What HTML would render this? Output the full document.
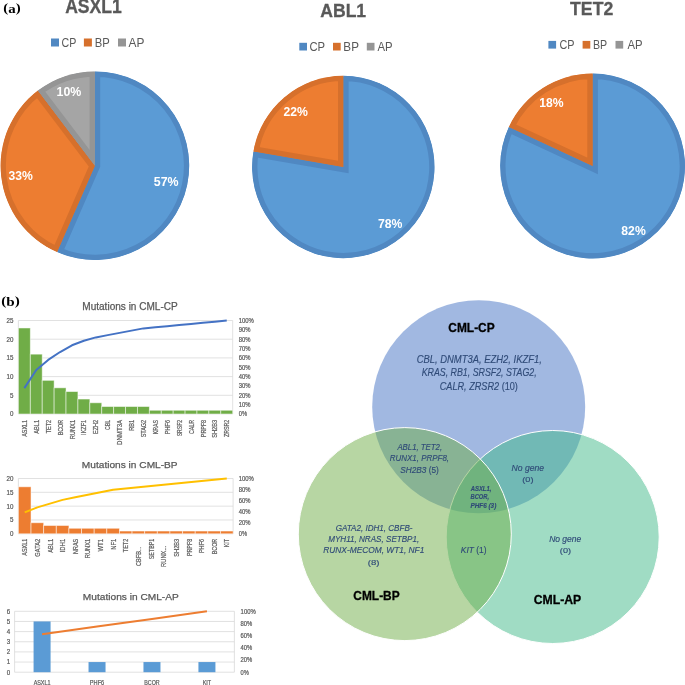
<!DOCTYPE html>
<html><head><meta charset="utf-8"><title>Figure</title>
<style>html,body{margin:0;padding:0;background:#fff;}svg{display:block;}</style>
</head><body>
<svg width="685" height="685" viewBox="0 0 685 685">
<rect width="685" height="685" fill="#fff"/>
<circle cx="94.9" cy="165.7" r="93.7" fill="#5088C2"/>
<clipPath id="c1"><path d="M94.9,165.7L94.9,71.4A94.3,94.3 0 1 1 57.15,252.11Z"/></clipPath>
<path d="M94.9,165.7L94.9,71.4A94.3,94.3 0 1 1 57.15,252.11Z" fill="#5B9BD5" stroke="#5088C2" stroke-width="10.6" clip-path="url(#c1)" stroke-linejoin="miter"/>
<clipPath id="c2"><path d="M94.9,165.7L57.15,252.11A94.3,94.3 0 0 1 37.89,90.59Z"/></clipPath>
<path d="M94.9,165.7L57.15,252.11A94.3,94.3 0 0 1 37.89,90.59Z" fill="#ED7D31" stroke="#D6702C" stroke-width="10.6" clip-path="url(#c2)" stroke-linejoin="miter"/>
<clipPath id="c3"><path d="M94.9,165.7L37.89,90.59A94.3,94.3 0 0 1 94.9,71.4Z"/></clipPath>
<path d="M94.9,165.7L37.89,90.59A94.3,94.3 0 0 1 94.9,71.4Z" fill="#A5A5A5" stroke="#959595" stroke-width="10.6" clip-path="url(#c3)" stroke-linejoin="miter"/>
<circle cx="343.3" cy="167" r="90.6" fill="#5088C2"/>
<clipPath id="c4"><path d="M343.3,167L343.3,75.8A91.2,91.2 0 1 1 253.43,151.48Z"/></clipPath>
<path d="M343.3,167L343.3,75.8A91.2,91.2 0 1 1 253.43,151.48Z" fill="#5B9BD5" stroke="#5088C2" stroke-width="10.6" clip-path="url(#c4)" stroke-linejoin="miter"/>
<clipPath id="c5"><path d="M343.3,167L253.43,151.48A91.2,91.2 0 0 1 343.3,75.8Z"/></clipPath>
<path d="M343.3,167L253.43,151.48A91.2,91.2 0 0 1 343.3,75.8Z" fill="#ED7D31" stroke="#D6702C" stroke-width="10.6" clip-path="url(#c5)" stroke-linejoin="miter"/>
<circle cx="592.6" cy="166" r="91.8" fill="#5088C2"/>
<clipPath id="c6"><path d="M592.6,166L592.6,73.6A92.4,92.4 0 1 1 508.86,126.95Z"/></clipPath>
<path d="M592.6,166L592.6,73.6A92.4,92.4 0 1 1 508.86,126.95Z" fill="#5B9BD5" stroke="#5088C2" stroke-width="10.6" clip-path="url(#c6)" stroke-linejoin="miter"/>
<clipPath id="c7"><path d="M592.6,166L508.86,126.95A92.4,92.4 0 0 1 592.6,73.6Z"/></clipPath>
<path d="M592.6,166L508.86,126.95A92.4,92.4 0 0 1 592.6,73.6Z" fill="#ED7D31" stroke="#D6702C" stroke-width="10.6" clip-path="url(#c7)" stroke-linejoin="miter"/>
<text x="3.33" y="12.7" font-family="'Liberation Serif', serif" font-size="12.52" fill="#000" font-weight="bold" textLength="17.38" lengthAdjust="spacingAndGlyphs"><tspan dy="-0.9">(</tspan><tspan dy="0.9">a</tspan><tspan dy="-0.9">)</tspan></text>
<text x="65.16" y="13.1" font-family="'Liberation Sans', sans-serif" font-size="19.71" fill="#595959" font-weight="bold" textLength="56.64" lengthAdjust="spacingAndGlyphs" stroke="#595959" stroke-width="0.3">ASXL1</text>
<text x="320.26" y="16.9" font-family="'Liberation Sans', sans-serif" font-size="18.26" fill="#595959" font-weight="bold" textLength="45.9" lengthAdjust="spacingAndGlyphs" stroke="#595959" stroke-width="0.3">ABL1</text>
<text x="570.02" y="15.3" font-family="'Liberation Sans', sans-serif" font-size="19.28" fill="#595959" font-weight="bold" textLength="43.28" lengthAdjust="spacingAndGlyphs" stroke="#595959" stroke-width="0.3">TET2</text>
<rect x="51" y="38.5" width="8" height="8" fill="#5088C2"/>
<rect x="83.9" y="38.5" width="8" height="8" fill="#D6702C"/>
<rect x="118" y="38.5" width="8" height="8" fill="#959595"/>
<text x="61.57" y="46.8" font-family="'Liberation Sans', sans-serif" font-size="12.9" fill="#595959" textLength="14.81" lengthAdjust="spacingAndGlyphs">CP</text>
<text x="94.8" y="46.8" font-family="'Liberation Sans', sans-serif" font-size="12.9" fill="#595959" textLength="15.01" lengthAdjust="spacingAndGlyphs">BP</text>
<text x="128.5" y="46.8" font-family="'Liberation Sans', sans-serif" font-size="12.9" fill="#595959" textLength="15.84" lengthAdjust="spacingAndGlyphs">AP</text>
<rect x="299.3" y="42.8" width="7.7" height="7.7" fill="#5088C2"/>
<rect x="333" y="42.8" width="7.7" height="7.7" fill="#D6702C"/>
<rect x="366.8" y="42.8" width="7.7" height="7.7" fill="#959595"/>
<text x="309.44" y="50.6" font-family="'Liberation Sans', sans-serif" font-size="12.46" fill="#595959" textLength="15.68" lengthAdjust="spacingAndGlyphs">CP</text>
<text x="343.37" y="50.6" font-family="'Liberation Sans', sans-serif" font-size="12.46" fill="#595959" textLength="15.56" lengthAdjust="spacingAndGlyphs">BP</text>
<text x="377.5" y="50.6" font-family="'Liberation Sans', sans-serif" font-size="12.46" fill="#595959" textLength="15.11" lengthAdjust="spacingAndGlyphs">AP</text>
<rect x="548.4" y="40.9" width="7.7" height="7.7" fill="#5088C2"/>
<rect x="582.6" y="40.9" width="7.7" height="7.7" fill="#D6702C"/>
<rect x="615.5" y="40.9" width="7.7" height="7.7" fill="#959595"/>
<text x="559.56" y="48.5" font-family="'Liberation Sans', sans-serif" font-size="12.32" fill="#595959" textLength="15.03" lengthAdjust="spacingAndGlyphs">CP</text>
<text x="592.95" y="48.5" font-family="'Liberation Sans', sans-serif" font-size="12.32" fill="#595959" textLength="14.23" lengthAdjust="spacingAndGlyphs">BP</text>
<text x="627.5" y="48.5" font-family="'Liberation Sans', sans-serif" font-size="12.32" fill="#595959" textLength="15.11" lengthAdjust="spacingAndGlyphs">AP</text>
<text x="153.83" y="185.7" font-family="'Liberation Sans', sans-serif" font-size="12.75" fill="#FFFFFF" font-weight="bold" textLength="24.8" lengthAdjust="spacingAndGlyphs">57%</text>
<text x="8.5" y="179.7" font-family="'Liberation Sans', sans-serif" font-size="12.75" fill="#FFFFFF" font-weight="bold" textLength="24.33" lengthAdjust="spacingAndGlyphs">33%</text>
<text x="56.56" y="95.5" font-family="'Liberation Sans', sans-serif" font-size="12.46" fill="#FFFFFF" font-weight="bold" textLength="24.77" lengthAdjust="spacingAndGlyphs">10%</text>
<text x="283.47" y="115.7" font-family="'Liberation Sans', sans-serif" font-size="12.75" fill="#FFFFFF" font-weight="bold" textLength="24.45" lengthAdjust="spacingAndGlyphs">22%</text>
<text x="377.91" y="227.7" font-family="'Liberation Sans', sans-serif" font-size="12.46" fill="#FFFFFF" font-weight="bold" textLength="24.51" lengthAdjust="spacingAndGlyphs">78%</text>
<text x="539.17" y="106.8" font-family="'Liberation Sans', sans-serif" font-size="12.46" fill="#FFFFFF" font-weight="bold" textLength="24.35" lengthAdjust="spacingAndGlyphs">18%</text>
<text x="621.33" y="234.7" font-family="'Liberation Sans', sans-serif" font-size="12.75" fill="#FFFFFF" font-weight="bold" textLength="24.39" lengthAdjust="spacingAndGlyphs">82%</text>
<text x="1.22" y="305.9" font-family="'Liberation Serif', serif" font-size="12.52" fill="#000" font-weight="bold" textLength="18.52" lengthAdjust="spacingAndGlyphs"><tspan dy="-0.9">(</tspan><tspan dy="0.9">b</tspan><tspan dy="-0.9">)</tspan></text>
<line x1="18.4" y1="320.5" x2="232.7" y2="320.5" stroke="#D9D9D9" stroke-width="0.8"/>
<line x1="18.4" y1="339.2" x2="232.7" y2="339.2" stroke="#D9D9D9" stroke-width="0.8"/>
<line x1="18.4" y1="357.9" x2="232.7" y2="357.9" stroke="#D9D9D9" stroke-width="0.8"/>
<line x1="18.4" y1="376.6" x2="232.7" y2="376.6" stroke="#D9D9D9" stroke-width="0.8"/>
<line x1="18.4" y1="395.3" x2="232.7" y2="395.3" stroke="#D9D9D9" stroke-width="0.8"/>
<line x1="18.4" y1="414" x2="232.7" y2="414" stroke="#D9D9D9" stroke-width="0.8"/>
<line x1="18.4" y1="320.5" x2="18.4" y2="414" stroke="#D9D9D9" stroke-width="0.8"/>
<line x1="232.7" y1="320.5" x2="232.7" y2="414" stroke="#D9D9D9" stroke-width="0.8"/>
<rect x="18.4" y="327.98" width="11.91" height="86.02" fill="#70AD47" stroke="#fff" stroke-opacity="0.55" stroke-width="0.9"/>
<rect x="30.31" y="354.16" width="11.91" height="59.84" fill="#70AD47" stroke="#fff" stroke-opacity="0.55" stroke-width="0.9"/>
<rect x="42.21" y="380.34" width="11.91" height="33.66" fill="#70AD47" stroke="#fff" stroke-opacity="0.55" stroke-width="0.9"/>
<rect x="54.12" y="387.82" width="11.91" height="26.18" fill="#70AD47" stroke="#fff" stroke-opacity="0.55" stroke-width="0.9"/>
<rect x="66.02" y="391.56" width="11.91" height="22.44" fill="#70AD47" stroke="#fff" stroke-opacity="0.55" stroke-width="0.9"/>
<rect x="77.93" y="399.04" width="11.91" height="14.96" fill="#70AD47" stroke="#fff" stroke-opacity="0.55" stroke-width="0.9"/>
<rect x="89.83" y="402.78" width="11.91" height="11.22" fill="#70AD47" stroke="#fff" stroke-opacity="0.55" stroke-width="0.9"/>
<rect x="101.74" y="406.52" width="11.91" height="7.48" fill="#70AD47" stroke="#fff" stroke-opacity="0.55" stroke-width="0.9"/>
<rect x="113.64" y="406.52" width="11.91" height="7.48" fill="#70AD47" stroke="#fff" stroke-opacity="0.55" stroke-width="0.9"/>
<rect x="125.55" y="406.52" width="11.91" height="7.48" fill="#70AD47" stroke="#fff" stroke-opacity="0.55" stroke-width="0.9"/>
<rect x="137.46" y="406.52" width="11.91" height="7.48" fill="#70AD47" stroke="#fff" stroke-opacity="0.55" stroke-width="0.9"/>
<rect x="149.36" y="410.26" width="11.91" height="3.74" fill="#70AD47" stroke="#fff" stroke-opacity="0.55" stroke-width="0.9"/>
<rect x="161.27" y="410.26" width="11.91" height="3.74" fill="#70AD47" stroke="#fff" stroke-opacity="0.55" stroke-width="0.9"/>
<rect x="173.17" y="410.26" width="11.91" height="3.74" fill="#70AD47" stroke="#fff" stroke-opacity="0.55" stroke-width="0.9"/>
<rect x="185.08" y="410.26" width="11.91" height="3.74" fill="#70AD47" stroke="#fff" stroke-opacity="0.55" stroke-width="0.9"/>
<rect x="196.98" y="410.26" width="11.91" height="3.74" fill="#70AD47" stroke="#fff" stroke-opacity="0.55" stroke-width="0.9"/>
<rect x="208.89" y="410.26" width="11.91" height="3.74" fill="#70AD47" stroke="#fff" stroke-opacity="0.55" stroke-width="0.9"/>
<rect x="220.79" y="410.26" width="11.91" height="3.74" fill="#70AD47" stroke="#fff" stroke-opacity="0.55" stroke-width="0.9"/>
<polyline points="24.35,388.09 36.26,370.07 48.16,359.93 60.07,352.04 71.97,345.28 83.88,340.78 95.79,337.4 107.69,335.14 119.6,332.89 131.5,330.64 143.41,328.39 155.31,327.26 167.22,326.13 179.12,325.01 191.03,323.88 202.94,322.75 214.84,321.63 226.75,320.5" fill="none" stroke="#4472C4" stroke-width="2" stroke-linejoin="round" stroke-linecap="butt"/>
<text x="82.3" y="309.9" font-family="'Liberation Sans', sans-serif" font-size="10.14" fill="#595959" textLength="95.44" lengthAdjust="spacingAndGlyphs" stroke="#595959" stroke-width="0.25">Mutations in CML-CP</text>
<text x="13.4" y="322.9" font-family="'Liberation Sans', sans-serif" font-size="6.36" fill="#595959" textLength="6.89" lengthAdjust="spacingAndGlyphs" text-anchor="end" stroke="#595959" stroke-width="0.2">25</text>
<text x="13.4" y="341.6" font-family="'Liberation Sans', sans-serif" font-size="6.36" fill="#595959" textLength="6.89" lengthAdjust="spacingAndGlyphs" text-anchor="end" stroke="#595959" stroke-width="0.2">20</text>
<text x="13.4" y="360.3" font-family="'Liberation Sans', sans-serif" font-size="6.36" fill="#595959" textLength="6.89" lengthAdjust="spacingAndGlyphs" text-anchor="end" stroke="#595959" stroke-width="0.2">15</text>
<text x="13.4" y="379" font-family="'Liberation Sans', sans-serif" font-size="6.36" fill="#595959" textLength="6.89" lengthAdjust="spacingAndGlyphs" text-anchor="end" stroke="#595959" stroke-width="0.2">10</text>
<text x="13.4" y="397.7" font-family="'Liberation Sans', sans-serif" font-size="6.36" fill="#595959" textLength="3.45" lengthAdjust="spacingAndGlyphs" text-anchor="end" stroke="#595959" stroke-width="0.2">5</text>
<text x="13.4" y="416.4" font-family="'Liberation Sans', sans-serif" font-size="6.36" fill="#595959" textLength="3.45" lengthAdjust="spacingAndGlyphs" text-anchor="end" stroke="#595959" stroke-width="0.2">0</text>
<text x="238.7" y="322.9" font-family="'Liberation Sans', sans-serif" font-size="6.36" fill="#595959" textLength="15.2" lengthAdjust="spacingAndGlyphs" stroke="#595959" stroke-width="0.2">100%</text>
<text x="238.7" y="332.25" font-family="'Liberation Sans', sans-serif" font-size="6.36" fill="#595959" textLength="11.75" lengthAdjust="spacingAndGlyphs" stroke="#595959" stroke-width="0.2">90%</text>
<text x="238.7" y="341.6" font-family="'Liberation Sans', sans-serif" font-size="6.36" fill="#595959" textLength="11.75" lengthAdjust="spacingAndGlyphs" stroke="#595959" stroke-width="0.2">80%</text>
<text x="238.7" y="350.95" font-family="'Liberation Sans', sans-serif" font-size="6.36" fill="#595959" textLength="11.75" lengthAdjust="spacingAndGlyphs" stroke="#595959" stroke-width="0.2">70%</text>
<text x="238.7" y="360.3" font-family="'Liberation Sans', sans-serif" font-size="6.36" fill="#595959" textLength="11.75" lengthAdjust="spacingAndGlyphs" stroke="#595959" stroke-width="0.2">60%</text>
<text x="238.7" y="369.65" font-family="'Liberation Sans', sans-serif" font-size="6.36" fill="#595959" textLength="11.75" lengthAdjust="spacingAndGlyphs" stroke="#595959" stroke-width="0.2">50%</text>
<text x="238.7" y="379" font-family="'Liberation Sans', sans-serif" font-size="6.36" fill="#595959" textLength="11.75" lengthAdjust="spacingAndGlyphs" stroke="#595959" stroke-width="0.2">40%</text>
<text x="238.7" y="388.35" font-family="'Liberation Sans', sans-serif" font-size="6.36" fill="#595959" textLength="11.75" lengthAdjust="spacingAndGlyphs" stroke="#595959" stroke-width="0.2">30%</text>
<text x="238.7" y="397.7" font-family="'Liberation Sans', sans-serif" font-size="6.36" fill="#595959" textLength="11.75" lengthAdjust="spacingAndGlyphs" stroke="#595959" stroke-width="0.2">20%</text>
<text x="238.7" y="407.05" font-family="'Liberation Sans', sans-serif" font-size="6.36" fill="#595959" textLength="11.75" lengthAdjust="spacingAndGlyphs" stroke="#595959" stroke-width="0.2">10%</text>
<text x="238.7" y="416.4" font-family="'Liberation Sans', sans-serif" font-size="6.36" fill="#595959" textLength="8.31" lengthAdjust="spacingAndGlyphs" stroke="#595959" stroke-width="0.2">0%</text>
<text transform="translate(26.95,419.9) rotate(-90)" x="0" y="0" font-family="'Liberation Sans', sans-serif" font-size="6.36" fill="#595959" textLength="16.85" lengthAdjust="spacingAndGlyphs" text-anchor="end" stroke="#595959" stroke-width="0.2">ASXL1</text>
<text transform="translate(38.86,419.9) rotate(-90)" x="0" y="0" font-family="'Liberation Sans', sans-serif" font-size="6.36" fill="#595959" textLength="13.94" lengthAdjust="spacingAndGlyphs" text-anchor="end" stroke="#595959" stroke-width="0.2">ABL1</text>
<text transform="translate(50.76,419.9) rotate(-90)" x="0" y="0" font-family="'Liberation Sans', sans-serif" font-size="6.36" fill="#595959" textLength="13.39" lengthAdjust="spacingAndGlyphs" text-anchor="end" stroke="#595959" stroke-width="0.2">TET2</text>
<text transform="translate(62.67,419.9) rotate(-90)" x="0" y="0" font-family="'Liberation Sans', sans-serif" font-size="6.36" fill="#595959" textLength="15.46" lengthAdjust="spacingAndGlyphs" text-anchor="end" stroke="#595959" stroke-width="0.2">BCOR</text>
<text transform="translate(74.57,419.9) rotate(-90)" x="0" y="0" font-family="'Liberation Sans', sans-serif" font-size="6.36" fill="#595959" textLength="19.42" lengthAdjust="spacingAndGlyphs" text-anchor="end" stroke="#595959" stroke-width="0.2">RUNX1</text>
<text transform="translate(86.48,419.9) rotate(-90)" x="0" y="0" font-family="'Liberation Sans', sans-serif" font-size="6.36" fill="#595959" textLength="15" lengthAdjust="spacingAndGlyphs" text-anchor="end" stroke="#595959" stroke-width="0.2">IKZF1</text>
<text transform="translate(98.39,419.9) rotate(-90)" x="0" y="0" font-family="'Liberation Sans', sans-serif" font-size="6.36" fill="#595959" textLength="14.16" lengthAdjust="spacingAndGlyphs" text-anchor="end" stroke="#595959" stroke-width="0.2">EZH2</text>
<text transform="translate(110.29,419.9) rotate(-90)" x="0" y="0" font-family="'Liberation Sans', sans-serif" font-size="6.36" fill="#595959" textLength="10.18" lengthAdjust="spacingAndGlyphs" text-anchor="end" stroke="#595959" stroke-width="0.2">CBL</text>
<text transform="translate(122.2,419.9) rotate(-90)" x="0" y="0" font-family="'Liberation Sans', sans-serif" font-size="6.36" fill="#595959" textLength="25.08" lengthAdjust="spacingAndGlyphs" text-anchor="end" stroke="#595959" stroke-width="0.2">DNMT3A</text>
<text transform="translate(134.1,419.9) rotate(-90)" x="0" y="0" font-family="'Liberation Sans', sans-serif" font-size="6.36" fill="#595959" textLength="10.84" lengthAdjust="spacingAndGlyphs" text-anchor="end" stroke="#595959" stroke-width="0.2">RB1</text>
<text transform="translate(146.01,419.9) rotate(-90)" x="0" y="0" font-family="'Liberation Sans', sans-serif" font-size="6.36" fill="#595959" textLength="17.48" lengthAdjust="spacingAndGlyphs" text-anchor="end" stroke="#595959" stroke-width="0.2">STAG2</text>
<text transform="translate(157.91,419.9) rotate(-90)" x="0" y="0" font-family="'Liberation Sans', sans-serif" font-size="6.36" fill="#595959" textLength="14.28" lengthAdjust="spacingAndGlyphs" text-anchor="end" stroke="#595959" stroke-width="0.2">KRAS</text>
<text transform="translate(169.82,419.9) rotate(-90)" x="0" y="0" font-family="'Liberation Sans', sans-serif" font-size="6.36" fill="#595959" textLength="14.32" lengthAdjust="spacingAndGlyphs" text-anchor="end" stroke="#595959" stroke-width="0.2">PHF6</text>
<text transform="translate(181.72,419.9) rotate(-90)" x="0" y="0" font-family="'Liberation Sans', sans-serif" font-size="6.36" fill="#595959" textLength="16.42" lengthAdjust="spacingAndGlyphs" text-anchor="end" stroke="#595959" stroke-width="0.2">SRSF2</text>
<text transform="translate(193.63,419.9) rotate(-90)" x="0" y="0" font-family="'Liberation Sans', sans-serif" font-size="6.36" fill="#595959" textLength="14.11" lengthAdjust="spacingAndGlyphs" text-anchor="end" stroke="#595959" stroke-width="0.2">CALR</text>
<text transform="translate(205.54,419.9) rotate(-90)" x="0" y="0" font-family="'Liberation Sans', sans-serif" font-size="6.36" fill="#595959" textLength="17.29" lengthAdjust="spacingAndGlyphs" text-anchor="end" stroke="#595959" stroke-width="0.2">PRPF8</text>
<text transform="translate(217.44,419.9) rotate(-90)" x="0" y="0" font-family="'Liberation Sans', sans-serif" font-size="6.36" fill="#595959" textLength="17.95" lengthAdjust="spacingAndGlyphs" text-anchor="end" stroke="#595959" stroke-width="0.2">SH2B3</text>
<text transform="translate(229.35,419.9) rotate(-90)" x="0" y="0" font-family="'Liberation Sans', sans-serif" font-size="6.36" fill="#595959" textLength="17.05" lengthAdjust="spacingAndGlyphs" text-anchor="end" stroke="#595959" stroke-width="0.2">ZRSR2</text>
<line x1="18.4" y1="478.5" x2="233.1" y2="478.5" stroke="#D9D9D9" stroke-width="0.8"/>
<line x1="18.4" y1="492.32" x2="233.1" y2="492.32" stroke="#D9D9D9" stroke-width="0.8"/>
<line x1="18.4" y1="506.15" x2="233.1" y2="506.15" stroke="#D9D9D9" stroke-width="0.8"/>
<line x1="18.4" y1="519.97" x2="233.1" y2="519.97" stroke="#D9D9D9" stroke-width="0.8"/>
<line x1="18.4" y1="533.8" x2="233.1" y2="533.8" stroke="#D9D9D9" stroke-width="0.8"/>
<line x1="18.4" y1="478.5" x2="18.4" y2="533.8" stroke="#D9D9D9" stroke-width="0.8"/>
<line x1="233.1" y1="478.5" x2="233.1" y2="533.8" stroke="#D9D9D9" stroke-width="0.8"/>
<rect x="18.4" y="486.8" width="12.63" height="47" fill="#ED7D31" stroke="#fff" stroke-opacity="0.55" stroke-width="0.9"/>
<rect x="31.03" y="522.74" width="12.63" height="11.06" fill="#ED7D31" stroke="#fff" stroke-opacity="0.55" stroke-width="0.9"/>
<rect x="43.66" y="525.5" width="12.63" height="8.29" fill="#ED7D31" stroke="#fff" stroke-opacity="0.55" stroke-width="0.9"/>
<rect x="56.29" y="525.5" width="12.63" height="8.29" fill="#ED7D31" stroke="#fff" stroke-opacity="0.55" stroke-width="0.9"/>
<rect x="68.92" y="528.27" width="12.63" height="5.53" fill="#ED7D31" stroke="#fff" stroke-opacity="0.55" stroke-width="0.9"/>
<rect x="81.55" y="528.27" width="12.63" height="5.53" fill="#ED7D31" stroke="#fff" stroke-opacity="0.55" stroke-width="0.9"/>
<rect x="94.18" y="528.27" width="12.63" height="5.53" fill="#ED7D31" stroke="#fff" stroke-opacity="0.55" stroke-width="0.9"/>
<rect x="106.81" y="528.27" width="12.63" height="5.53" fill="#ED7D31" stroke="#fff" stroke-opacity="0.55" stroke-width="0.9"/>
<rect x="119.44" y="531.03" width="12.63" height="2.76" fill="#ED7D31" stroke="#fff" stroke-opacity="0.55" stroke-width="0.9"/>
<rect x="132.06" y="531.03" width="12.63" height="2.76" fill="#ED7D31" stroke="#fff" stroke-opacity="0.55" stroke-width="0.9"/>
<rect x="144.69" y="531.03" width="12.63" height="2.76" fill="#ED7D31" stroke="#fff" stroke-opacity="0.55" stroke-width="0.9"/>
<rect x="157.32" y="531.03" width="12.63" height="2.76" fill="#ED7D31" stroke="#fff" stroke-opacity="0.55" stroke-width="0.9"/>
<rect x="169.95" y="531.03" width="12.63" height="2.76" fill="#ED7D31" stroke="#fff" stroke-opacity="0.55" stroke-width="0.9"/>
<rect x="182.58" y="531.03" width="12.63" height="2.76" fill="#ED7D31" stroke="#fff" stroke-opacity="0.55" stroke-width="0.9"/>
<rect x="195.21" y="531.03" width="12.63" height="2.76" fill="#ED7D31" stroke="#fff" stroke-opacity="0.55" stroke-width="0.9"/>
<rect x="207.84" y="531.03" width="12.63" height="2.76" fill="#ED7D31" stroke="#fff" stroke-opacity="0.55" stroke-width="0.9"/>
<rect x="220.47" y="531.03" width="12.63" height="2.76" fill="#ED7D31" stroke="#fff" stroke-opacity="0.55" stroke-width="0.9"/>
<polyline points="24.71,512.43 37.34,507.41 49.97,503.64 62.6,499.87 75.23,497.35 87.86,494.84 100.49,492.32 113.12,489.81 125.75,488.55 138.38,487.3 151.01,486.04 163.64,484.78 176.27,483.53 188.9,482.27 201.53,481.01 214.16,479.76 226.79,478.5" fill="none" stroke="#FFC000" stroke-width="2" stroke-linejoin="round" stroke-linecap="butt"/>
<text x="81.89" y="467.9" font-family="'Liberation Sans', sans-serif" font-size="9.57" fill="#595959" textLength="95.75" lengthAdjust="spacingAndGlyphs" stroke="#595959" stroke-width="0.25">Mutations in CML-BP</text>
<text x="13.4" y="480.9" font-family="'Liberation Sans', sans-serif" font-size="6.36" fill="#595959" textLength="6.89" lengthAdjust="spacingAndGlyphs" text-anchor="end" stroke="#595959" stroke-width="0.2">20</text>
<text x="13.4" y="494.72" font-family="'Liberation Sans', sans-serif" font-size="6.36" fill="#595959" textLength="6.89" lengthAdjust="spacingAndGlyphs" text-anchor="end" stroke="#595959" stroke-width="0.2">15</text>
<text x="13.4" y="508.55" font-family="'Liberation Sans', sans-serif" font-size="6.36" fill="#595959" textLength="6.89" lengthAdjust="spacingAndGlyphs" text-anchor="end" stroke="#595959" stroke-width="0.2">10</text>
<text x="13.4" y="522.37" font-family="'Liberation Sans', sans-serif" font-size="6.36" fill="#595959" textLength="3.45" lengthAdjust="spacingAndGlyphs" text-anchor="end" stroke="#595959" stroke-width="0.2">5</text>
<text x="13.4" y="536.2" font-family="'Liberation Sans', sans-serif" font-size="6.36" fill="#595959" textLength="3.45" lengthAdjust="spacingAndGlyphs" text-anchor="end" stroke="#595959" stroke-width="0.2">0</text>
<text x="238.7" y="480.9" font-family="'Liberation Sans', sans-serif" font-size="6.36" fill="#595959" textLength="15.2" lengthAdjust="spacingAndGlyphs" stroke="#595959" stroke-width="0.2">100%</text>
<text x="238.7" y="491.96" font-family="'Liberation Sans', sans-serif" font-size="6.36" fill="#595959" textLength="11.75" lengthAdjust="spacingAndGlyphs" stroke="#595959" stroke-width="0.2">80%</text>
<text x="238.7" y="503.02" font-family="'Liberation Sans', sans-serif" font-size="6.36" fill="#595959" textLength="11.75" lengthAdjust="spacingAndGlyphs" stroke="#595959" stroke-width="0.2">60%</text>
<text x="238.7" y="514.08" font-family="'Liberation Sans', sans-serif" font-size="6.36" fill="#595959" textLength="11.75" lengthAdjust="spacingAndGlyphs" stroke="#595959" stroke-width="0.2">40%</text>
<text x="238.7" y="525.14" font-family="'Liberation Sans', sans-serif" font-size="6.36" fill="#595959" textLength="11.75" lengthAdjust="spacingAndGlyphs" stroke="#595959" stroke-width="0.2">20%</text>
<text x="238.7" y="536.2" font-family="'Liberation Sans', sans-serif" font-size="6.36" fill="#595959" textLength="8.31" lengthAdjust="spacingAndGlyphs" stroke="#595959" stroke-width="0.2">0%</text>
<text transform="translate(27.31,538.8) rotate(-90)" x="0" y="0" font-family="'Liberation Sans', sans-serif" font-size="6.36" fill="#595959" textLength="16.85" lengthAdjust="spacingAndGlyphs" text-anchor="end" stroke="#595959" stroke-width="0.2">ASXL1</text>
<text transform="translate(39.94,538.8) rotate(-90)" x="0" y="0" font-family="'Liberation Sans', sans-serif" font-size="6.36" fill="#595959" textLength="17.86" lengthAdjust="spacingAndGlyphs" text-anchor="end" stroke="#595959" stroke-width="0.2">GATA2</text>
<text transform="translate(52.57,538.8) rotate(-90)" x="0" y="0" font-family="'Liberation Sans', sans-serif" font-size="6.36" fill="#595959" textLength="13.94" lengthAdjust="spacingAndGlyphs" text-anchor="end" stroke="#595959" stroke-width="0.2">ABL1</text>
<text transform="translate(65.2,538.8) rotate(-90)" x="0" y="0" font-family="'Liberation Sans', sans-serif" font-size="6.36" fill="#595959" textLength="13.58" lengthAdjust="spacingAndGlyphs" text-anchor="end" stroke="#595959" stroke-width="0.2">IDH1</text>
<text transform="translate(77.83,538.8) rotate(-90)" x="0" y="0" font-family="'Liberation Sans', sans-serif" font-size="6.36" fill="#595959" textLength="15.14" lengthAdjust="spacingAndGlyphs" text-anchor="end" stroke="#595959" stroke-width="0.2">NRAS</text>
<text transform="translate(90.46,538.8) rotate(-90)" x="0" y="0" font-family="'Liberation Sans', sans-serif" font-size="6.36" fill="#595959" textLength="19.42" lengthAdjust="spacingAndGlyphs" text-anchor="end" stroke="#595959" stroke-width="0.2">RUNX1</text>
<text transform="translate(103.09,538.8) rotate(-90)" x="0" y="0" font-family="'Liberation Sans', sans-serif" font-size="6.36" fill="#595959" textLength="12.81" lengthAdjust="spacingAndGlyphs" text-anchor="end" stroke="#595959" stroke-width="0.2">WT1</text>
<text transform="translate(115.72,538.8) rotate(-90)" x="0" y="0" font-family="'Liberation Sans', sans-serif" font-size="6.36" fill="#595959" textLength="10.96" lengthAdjust="spacingAndGlyphs" text-anchor="end" stroke="#595959" stroke-width="0.2">NF1</text>
<text transform="translate(128.35,538.8) rotate(-90)" x="0" y="0" font-family="'Liberation Sans', sans-serif" font-size="6.36" fill="#595959" textLength="13.39" lengthAdjust="spacingAndGlyphs" text-anchor="end" stroke="#595959" stroke-width="0.2">TET2</text>
<text transform="translate(140.98,546.6) rotate(-90)" x="0" y="0" font-family="'Liberation Sans', sans-serif" font-size="6.36" fill="#595959" textLength="19.3" lengthAdjust="spacingAndGlyphs" text-anchor="end" stroke="#595959" stroke-width="0.2">CBFB...</text>
<text transform="translate(153.61,538.8) rotate(-90)" x="0" y="0" font-family="'Liberation Sans', sans-serif" font-size="6.36" fill="#595959" textLength="20.42" lengthAdjust="spacingAndGlyphs" text-anchor="end" stroke="#595959" stroke-width="0.2">SETBP1</text>
<text transform="translate(166.24,545.8) rotate(-90)" x="0" y="0" font-family="'Liberation Sans', sans-serif" font-size="6.36" fill="#595959" textLength="21.12" lengthAdjust="spacingAndGlyphs" text-anchor="end" stroke="#595959" stroke-width="0.2">RUNX...</text>
<text transform="translate(178.87,538.8) rotate(-90)" x="0" y="0" font-family="'Liberation Sans', sans-serif" font-size="6.36" fill="#595959" textLength="17.95" lengthAdjust="spacingAndGlyphs" text-anchor="end" stroke="#595959" stroke-width="0.2">SH2B3</text>
<text transform="translate(191.5,538.8) rotate(-90)" x="0" y="0" font-family="'Liberation Sans', sans-serif" font-size="6.36" fill="#595959" textLength="17.29" lengthAdjust="spacingAndGlyphs" text-anchor="end" stroke="#595959" stroke-width="0.2">PRPF8</text>
<text transform="translate(204.13,538.8) rotate(-90)" x="0" y="0" font-family="'Liberation Sans', sans-serif" font-size="6.36" fill="#595959" textLength="14.32" lengthAdjust="spacingAndGlyphs" text-anchor="end" stroke="#595959" stroke-width="0.2">PHF6</text>
<text transform="translate(216.76,538.8) rotate(-90)" x="0" y="0" font-family="'Liberation Sans', sans-serif" font-size="6.36" fill="#595959" textLength="15.46" lengthAdjust="spacingAndGlyphs" text-anchor="end" stroke="#595959" stroke-width="0.2">BCOR</text>
<text transform="translate(229.39,538.8) rotate(-90)" x="0" y="0" font-family="'Liberation Sans', sans-serif" font-size="6.36" fill="#595959" textLength="8.56" lengthAdjust="spacingAndGlyphs" text-anchor="end" stroke="#595959" stroke-width="0.2">KIT</text>
<line x1="14.6" y1="611.3" x2="234.4" y2="611.3" stroke="#D9D9D9" stroke-width="0.8"/>
<line x1="14.6" y1="621.45" x2="234.4" y2="621.45" stroke="#D9D9D9" stroke-width="0.8"/>
<line x1="14.6" y1="631.6" x2="234.4" y2="631.6" stroke="#D9D9D9" stroke-width="0.8"/>
<line x1="14.6" y1="641.75" x2="234.4" y2="641.75" stroke="#D9D9D9" stroke-width="0.8"/>
<line x1="14.6" y1="651.9" x2="234.4" y2="651.9" stroke="#D9D9D9" stroke-width="0.8"/>
<line x1="14.6" y1="662.05" x2="234.4" y2="662.05" stroke="#D9D9D9" stroke-width="0.8"/>
<line x1="14.6" y1="672.2" x2="234.4" y2="672.2" stroke="#D9D9D9" stroke-width="0.8"/>
<line x1="14.6" y1="611.3" x2="14.6" y2="672.2" stroke="#D9D9D9" stroke-width="0.8"/>
<line x1="234.4" y1="611.3" x2="234.4" y2="672.2" stroke="#D9D9D9" stroke-width="0.8"/>
<rect x="33.58" y="621.45" width="17" height="50.75" fill="#5B9BD5"/>
<rect x="88.53" y="662.05" width="17" height="10.15" fill="#5B9BD5"/>
<rect x="143.47" y="662.05" width="17" height="10.15" fill="#5B9BD5"/>
<rect x="198.43" y="662.05" width="17" height="10.15" fill="#5B9BD5"/>
<polyline points="42.08,634.14 97.03,626.52 151.97,618.91 206.93,611.3" fill="none" stroke="#ED7D31" stroke-width="2" stroke-linejoin="round" stroke-linecap="butt"/>
<text x="82.89" y="600.2" font-family="'Liberation Sans', sans-serif" font-size="9.28" fill="#595959" textLength="95.85" lengthAdjust="spacingAndGlyphs" stroke="#595959" stroke-width="0.25">Mutations in CML-AP</text>
<text x="10.2" y="613.7" font-family="'Liberation Sans', sans-serif" font-size="6.36" fill="#595959" textLength="3.45" lengthAdjust="spacingAndGlyphs" text-anchor="end" stroke="#595959" stroke-width="0.2">6</text>
<text x="10.2" y="623.85" font-family="'Liberation Sans', sans-serif" font-size="6.36" fill="#595959" textLength="3.45" lengthAdjust="spacingAndGlyphs" text-anchor="end" stroke="#595959" stroke-width="0.2">5</text>
<text x="10.2" y="634" font-family="'Liberation Sans', sans-serif" font-size="6.36" fill="#595959" textLength="3.45" lengthAdjust="spacingAndGlyphs" text-anchor="end" stroke="#595959" stroke-width="0.2">4</text>
<text x="10.2" y="644.15" font-family="'Liberation Sans', sans-serif" font-size="6.36" fill="#595959" textLength="3.45" lengthAdjust="spacingAndGlyphs" text-anchor="end" stroke="#595959" stroke-width="0.2">3</text>
<text x="10.2" y="654.3" font-family="'Liberation Sans', sans-serif" font-size="6.36" fill="#595959" textLength="3.45" lengthAdjust="spacingAndGlyphs" text-anchor="end" stroke="#595959" stroke-width="0.2">2</text>
<text x="10.2" y="664.45" font-family="'Liberation Sans', sans-serif" font-size="6.36" fill="#595959" textLength="3.45" lengthAdjust="spacingAndGlyphs" text-anchor="end" stroke="#595959" stroke-width="0.2">1</text>
<text x="10.2" y="674.6" font-family="'Liberation Sans', sans-serif" font-size="6.36" fill="#595959" textLength="3.45" lengthAdjust="spacingAndGlyphs" text-anchor="end" stroke="#595959" stroke-width="0.2">0</text>
<text x="240.6" y="613.7" font-family="'Liberation Sans', sans-serif" font-size="6.36" fill="#595959" textLength="15.2" lengthAdjust="spacingAndGlyphs" stroke="#595959" stroke-width="0.2">100%</text>
<text x="240.6" y="625.88" font-family="'Liberation Sans', sans-serif" font-size="6.36" fill="#595959" textLength="11.75" lengthAdjust="spacingAndGlyphs" stroke="#595959" stroke-width="0.2">80%</text>
<text x="240.6" y="638.06" font-family="'Liberation Sans', sans-serif" font-size="6.36" fill="#595959" textLength="11.75" lengthAdjust="spacingAndGlyphs" stroke="#595959" stroke-width="0.2">60%</text>
<text x="240.6" y="650.24" font-family="'Liberation Sans', sans-serif" font-size="6.36" fill="#595959" textLength="11.75" lengthAdjust="spacingAndGlyphs" stroke="#595959" stroke-width="0.2">40%</text>
<text x="240.6" y="662.42" font-family="'Liberation Sans', sans-serif" font-size="6.36" fill="#595959" textLength="11.75" lengthAdjust="spacingAndGlyphs" stroke="#595959" stroke-width="0.2">20%</text>
<text x="240.6" y="674.6" font-family="'Liberation Sans', sans-serif" font-size="6.36" fill="#595959" textLength="8.31" lengthAdjust="spacingAndGlyphs" stroke="#595959" stroke-width="0.2">0%</text>
<text x="42.08" y="684.9" font-family="'Liberation Sans', sans-serif" font-size="6.36" fill="#595959" textLength="16.85" lengthAdjust="spacingAndGlyphs" text-anchor="middle" stroke="#595959" stroke-width="0.2">ASXL1</text>
<text x="97.03" y="684.9" font-family="'Liberation Sans', sans-serif" font-size="6.36" fill="#595959" textLength="14.32" lengthAdjust="spacingAndGlyphs" text-anchor="middle" stroke="#595959" stroke-width="0.2">PHF6</text>
<text x="151.97" y="684.9" font-family="'Liberation Sans', sans-serif" font-size="6.36" fill="#595959" textLength="15.46" lengthAdjust="spacingAndGlyphs" text-anchor="middle" stroke="#595959" stroke-width="0.2">BCOR</text>
<text x="206.93" y="684.9" font-family="'Liberation Sans', sans-serif" font-size="6.36" fill="#595959" textLength="8.56" lengthAdjust="spacingAndGlyphs" text-anchor="middle" stroke="#595959" stroke-width="0.2">KIT</text>
<circle cx="478.7" cy="406.7" r="106.5" fill="#4472C4" fill-opacity="0.5"/>
<circle cx="552.7" cy="537.0" r="106.5" fill="#42BA8A" fill-opacity="0.5"/>
<circle cx="552.7" cy="537.0" r="106.5" fill="none" stroke="#fff" stroke-width="1"/>
<circle cx="404.8" cy="534.1" r="106.5" fill="#70AD47" fill-opacity="0.5"/>
<circle cx="404.8" cy="534.1" r="106.5" fill="none" stroke="#fff" stroke-width="1"/>
<text x="448.32" y="331.8" font-family="'Liberation Sans', sans-serif" font-size="12.9" fill="#000" font-weight="bold" textLength="46.37" lengthAdjust="spacingAndGlyphs" stroke="#000" stroke-width="0.3">CML-CP</text>
<text x="353.32" y="600.2" font-family="'Liberation Sans', sans-serif" font-size="12.75" fill="#000" font-weight="bold" textLength="46.37" lengthAdjust="spacingAndGlyphs" stroke="#000" stroke-width="0.3">CML-BP</text>
<text x="533.71" y="603.7" font-family="'Liberation Sans', sans-serif" font-size="12.9" fill="#000" font-weight="bold" textLength="47.5" lengthAdjust="spacingAndGlyphs" stroke="#000" stroke-width="0.3">CML-AP</text>
<text x="416.68" y="362.9" font-family="'Liberation Sans', sans-serif" font-size="11.01" fill="#304B78" font-style="italic" textLength="125.21" lengthAdjust="spacingAndGlyphs" stroke="#304B78" stroke-width="0.15">CBL, DNMT3A, EZH2, IKZF1,</text>
<text x="421.64" y="376.4" font-family="'Liberation Sans', sans-serif" font-size="11.01" fill="#304B78" font-style="italic" textLength="115.09" lengthAdjust="spacingAndGlyphs" stroke="#304B78" stroke-width="0.15">KRAS, RB1, SRSF2, STAG2,</text>
<text x="439.7" y="389.7" font-family="'Liberation Sans', sans-serif" font-size="11.01" fill="#304B78" font-style="italic" textLength="59.4" lengthAdjust="spacingAndGlyphs" stroke="#304B78" stroke-width="0.15">CALR, ZRSR2</text>
<text x="501.63" y="389.7" font-family="'Liberation Sans', sans-serif" font-size="11.01" fill="#304B78" textLength="16.25" lengthAdjust="spacingAndGlyphs" stroke="#304B78" stroke-width="0.15">(10)</text>
<text x="397.39" y="449.9" font-family="'Liberation Sans', sans-serif" font-size="8.7" fill="#304B78" font-style="italic" textLength="44.75" lengthAdjust="spacingAndGlyphs" stroke="#304B78" stroke-width="0.15">ABL1, TET2,</text>
<text x="389.86" y="461.3" font-family="'Liberation Sans', sans-serif" font-size="8.7" fill="#304B78" font-style="italic" textLength="59.16" lengthAdjust="spacingAndGlyphs" stroke="#304B78" stroke-width="0.15">RUNX1, PRPF8,</text>
<text x="400.15" y="472.7" font-family="'Liberation Sans', sans-serif" font-size="8.7" fill="#304B78" font-style="italic" textLength="26.24" lengthAdjust="spacingAndGlyphs" stroke="#304B78" stroke-width="0.15">SH2B3</text>
<text x="428.69" y="472.7" font-family="'Liberation Sans', sans-serif" font-size="8.7" fill="#304B78" textLength="10.12" lengthAdjust="spacingAndGlyphs" stroke="#304B78" stroke-width="0.15">(5)</text>
<text x="511.54" y="470.9" font-family="'Liberation Sans', sans-serif" font-size="8.7" fill="#304B78" font-style="italic" textLength="32.57" lengthAdjust="spacingAndGlyphs" stroke="#304B78" stroke-width="0.15">No gene</text>
<text x="522.25" y="482" font-family="'Liberation Sans', sans-serif" font-size="8.12" fill="#304B78" textLength="11.22" lengthAdjust="spacingAndGlyphs" stroke="#304B78" stroke-width="0.15">(0)</text>
<text x="470.72" y="491.1" font-family="'Liberation Sans', sans-serif" font-size="6.38" fill="#304B78" font-weight="bold" font-style="italic" textLength="20.59" lengthAdjust="spacingAndGlyphs" stroke="#304B78" stroke-width="0.15">ASXL1,</text>
<text x="470.49" y="499.3" font-family="'Liberation Sans', sans-serif" font-size="6.38" fill="#304B78" font-weight="bold" font-style="italic" textLength="18.52" lengthAdjust="spacingAndGlyphs" stroke="#304B78" stroke-width="0.15">BCOR,</text>
<text x="470.47" y="507.8" font-family="'Liberation Sans', sans-serif" font-size="6.38" fill="#304B78" font-weight="bold" font-style="italic" textLength="25.79" lengthAdjust="spacingAndGlyphs" stroke="#304B78" stroke-width="0.15">PHF6 (3)</text>
<text x="335.7" y="530.9" font-family="'Liberation Sans', sans-serif" font-size="8.7" fill="#304B78" font-style="italic" textLength="76.81" lengthAdjust="spacingAndGlyphs" stroke="#304B78" stroke-width="0.15">GATA2, IDH1, CBFB-</text>
<text x="328.16" y="541.7" font-family="'Liberation Sans', sans-serif" font-size="8.7" fill="#304B78" font-style="italic" textLength="91.1" lengthAdjust="spacingAndGlyphs" stroke="#304B78" stroke-width="0.15">MYH11, NRAS, SETBP1,</text>
<text x="323.25" y="552.9" font-family="'Liberation Sans', sans-serif" font-size="8.7" fill="#304B78" font-style="italic" textLength="101.07" lengthAdjust="spacingAndGlyphs" stroke="#304B78" stroke-width="0.15">RUNX-MECOM, WT1, NF1</text>
<text x="367.83" y="564.6" font-family="'Liberation Sans', sans-serif" font-size="8.12" fill="#304B78" textLength="11.67" lengthAdjust="spacingAndGlyphs" stroke="#304B78" stroke-width="0.15">(8)</text>
<text x="460.85" y="553" font-family="'Liberation Sans', sans-serif" font-size="8.7" fill="#304B78" font-style="italic" textLength="13.02" lengthAdjust="spacingAndGlyphs" stroke="#304B78" stroke-width="0.15">KIT</text>
<text x="476.19" y="553" font-family="'Liberation Sans', sans-serif" font-size="8.7" fill="#304B78" textLength="10.23" lengthAdjust="spacingAndGlyphs" stroke="#304B78" stroke-width="0.15">(1)</text>
<text x="549.14" y="542.3" font-family="'Liberation Sans', sans-serif" font-size="8.7" fill="#304B78" font-style="italic" textLength="32.16" lengthAdjust="spacingAndGlyphs" stroke="#304B78" stroke-width="0.15">No gene</text>
<text x="559.85" y="553.2" font-family="'Liberation Sans', sans-serif" font-size="8.12" fill="#304B78" textLength="11.22" lengthAdjust="spacingAndGlyphs" stroke="#304B78" stroke-width="0.15">(0)</text>
</svg>
</body></html>
